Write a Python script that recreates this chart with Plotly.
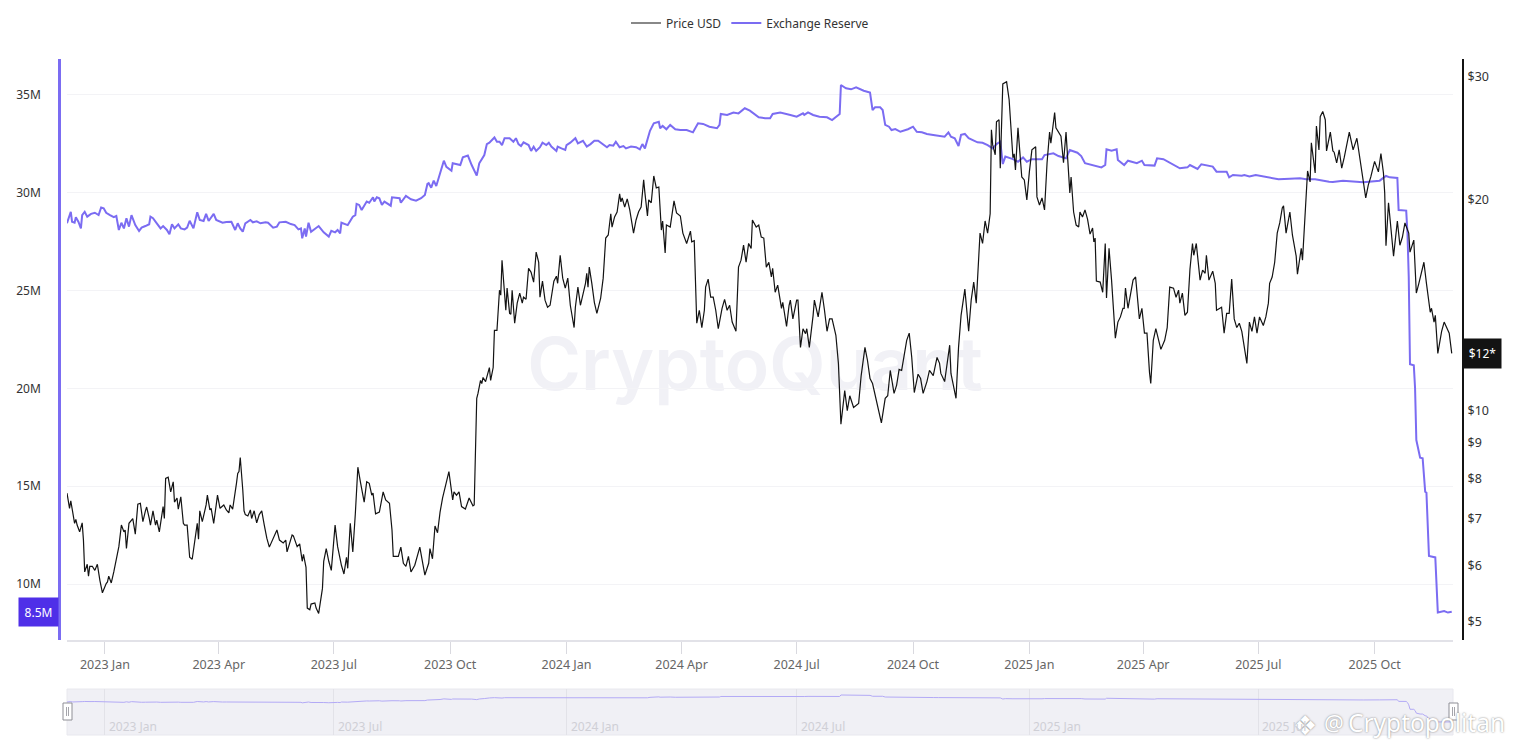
#!/usr/bin/env python3
# plot.py - price vs exchange reserve

import math

import pandas as pd
import plotly.graph_objects as go

W = 1515
H = 751
FONT = "Noto Sans"

# days since the first date of the chart
START_DATE = "2022-12-02"
END_DATE = "2025-12-02"

price_days = [
    0, 2, 3, 4, 6, 7, 8, 10, 12, 13, 14, 16, 17, 18, 20, 22, 24, 26, 28, 31,
    32, 33, 35, 37, 39, 41, 43, 45, 46, 47, 49, 51, 52, 54, 56, 58, 60, 62, 63, 65,
    66, 68, 70, 71, 73, 76, 77, 78, 80, 82, 84, 85, 87, 88, 90, 92, 93, 95, 97, 99,
    101, 103, 104, 105, 107, 108, 110, 111, 113, 114, 116, 118, 119, 121, 124, 126, 128, 129, 131, 134,
    135, 136, 137, 139, 140, 141, 143, 145, 146, 148, 150, 152, 154, 156, 158, 160, 163, 166, 168, 171,
    173, 174, 178, 179, 182, 184, 186, 187, 189, 190, 192, 193, 196, 197, 199, 202, 203, 205, 207, 209,
    212, 214, 217, 219, 221, 222, 224, 226, 228, 230, 232, 235, 237, 239, 241, 242, 244, 247, 250, 252,
    255, 257, 258, 262, 264, 266, 268, 270, 272, 275, 279, 283, 286, 287, 289, 291, 293, 295, 297, 299,
    302, 305, 306, 308, 310, 312, 315, 318, 320, 321, 322, 323, 324, 325, 327, 328, 329, 331, 334, 335,
    337, 338, 340, 342, 343, 344, 345, 347, 348, 350, 351, 352, 354, 356, 358, 360, 361, 363, 365, 367,
    369, 371, 373, 374, 376, 378, 380, 382, 385, 387, 388, 390, 392, 394, 396, 398, 401, 402, 404, 406,
    410, 411, 412, 413, 415, 417, 419, 422, 424, 426, 428, 430, 431, 433, 435, 437, 438, 439, 441, 443,
    445, 448, 450, 452, 454, 456, 457, 459, 460, 462, 464, 466, 468, 470, 471, 473, 474, 477, 480, 482,
    485, 487, 490, 493, 494, 496, 498, 500, 502, 504, 505, 507, 509, 511, 513, 515, 518, 520, 522, 524,
    526, 529, 531, 533, 535, 537, 539, 541, 542, 545, 547, 549, 551, 553, 555, 557, 558, 560, 562, 565,
    566, 569, 571, 572, 574, 577, 578, 580, 582, 584, 585, 587, 590, 591, 594, 597, 599, 601, 603, 605,
    608, 610, 612, 613, 615, 617, 619, 622, 626, 628, 631, 633, 635, 637, 640, 644, 647, 649, 651, 654,
    656, 658, 660, 662, 664, 666, 668, 670, 673, 675, 677, 680, 682, 685, 688, 690, 691, 694, 698, 699,
    703, 705, 707, 710, 713, 715, 717, 719, 721, 722, 724, 726, 728, 730, 731, 732, 734, 735, 737, 738,
    740, 743, 745, 748, 749, 750, 752, 755, 757, 759, 761, 763, 766, 767, 769, 771, 773, 775, 777, 778,
    781, 782, 786, 788, 790, 793, 794, 796, 798, 800, 801, 803, 805, 807, 809, 811, 812, 813, 814, 817,
    819, 821, 822, 824, 826, 829, 831, 833, 835, 836, 837, 839, 843, 845, 848, 850, 852, 854, 856, 857,
    859, 861, 865, 868, 870, 872, 875, 877, 879, 880, 882, 884, 886, 888, 890, 891, 893, 895, 896, 898,
    900, 901, 903, 906, 908, 909, 913, 915, 917, 919, 921, 923, 925, 927, 929, 933, 935, 937, 939, 941,
    943, 946, 948, 950, 951, 953, 955, 957, 959, 961, 962, 964, 967, 969, 972, 973, 976, 977, 979, 981,
    983, 984, 987, 988, 990, 991, 993, 995, 996, 999, 1001, 1002, 1004, 1006, 1008, 1010, 1014, 1017, 1020, 1022,
    1025, 1027, 1029, 1031, 1034, 1037, 1039, 1041, 1042, 1043, 1045, 1047, 1049, 1052, 1054, 1056, 1058, 1061, 1062, 1065,
    1067, 1069, 1071, 1073, 1075, 1078, 1079, 1081, 1082, 1084, 1087, 1089, 1093, 1095,
]

price_usd = [
    7.62, 7.25, 7.43, 7.21, 6.90, 6.99, 6.86, 6.71, 6.91, 6.53, 5.88, 6.03, 5.80, 5.99, 5.99, 5.91, 6.03, 5.72, 5.49, 5.66,
    5.69, 5.80, 5.67, 5.88, 6.11, 6.39, 6.86, 6.71, 6.75, 6.35, 6.90, 6.97, 7.01, 6.66, 7.35, 7.37, 6.94, 7.19, 7.28, 7.02,
    6.86, 7.19, 6.86, 6.97, 6.71, 7.29, 7.01, 8.00, 8.03, 7.65, 7.91, 7.40, 7.50, 7.23, 7.53, 6.90, 6.86, 6.86, 6.17, 6.13,
    6.53, 6.90, 6.55, 7.19, 6.94, 7.07, 7.33, 7.57, 7.21, 7.25, 6.90, 7.33, 7.57, 7.25, 7.33, 7.21, 7.14, 7.33, 7.23, 7.87,
    8.13, 8.18, 8.57, 7.70, 7.19, 7.10, 7.07, 7.21, 7.01, 7.19, 6.91, 7.10, 7.19, 6.86, 6.57, 6.38, 6.57, 6.75, 6.53, 6.47,
    6.53, 6.28, 6.64, 6.62, 6.39, 6.45, 6.09, 6.23, 5.97, 5.22, 5.19, 5.29, 5.31, 5.22, 5.13, 5.57, 6.09, 6.35, 6.09, 5.91,
    6.86, 6.39, 6.01, 5.84, 6.17, 5.95, 6.90, 6.28, 7.12, 8.30, 7.91, 7.40, 7.91, 7.87, 7.57, 7.62, 7.12, 7.16, 7.65, 7.45,
    7.37, 6.75, 6.19, 6.19, 6.38, 6.05, 5.99, 6.19, 5.88, 6.01, 6.38, 5.82, 6.05, 6.35, 6.14, 6.84, 6.69, 7.16, 7.50, 7.76,
    8.18, 7.45, 7.65, 7.57, 7.65, 7.29, 7.23, 7.50, 7.37, 7.31, 7.33, 9.33, 10.41, 10.58, 11.04, 10.93, 11.15, 11.00, 11.52, 11.04,
    11.52, 13.02, 13.02, 14.86, 14.62, 16.40, 15.52, 13.91, 14.96, 13.77, 13.73, 14.86, 13.33, 14.24, 14.72, 14.24, 14.52, 14.42, 15.97, 15.76,
    15.26, 16.84, 16.29, 14.52, 15.31, 14.38, 14.05, 14.14, 15.31, 15.56, 15.20, 16.67, 15.46, 14.96, 15.46, 14.14, 13.14, 14.05, 15.01, 14.14,
    15.20, 15.71, 15.01, 16.03, 15.20, 14.28, 13.77, 14.48, 15.46, 17.64, 17.82, 19.11, 18.29, 18.91, 19.22, 20.40, 19.87, 20.13, 19.54, 20.07,
    19.35, 17.93, 18.72, 19.23, 19.54, 21.36, 20.47, 18.97, 20.00, 19.81, 21.64, 20.81, 20.87, 18.11, 18.66, 16.79, 18.41, 18.29, 19.94, 19.16,
    18.97, 17.93, 17.33, 18.05, 17.42, 17.49, 13.33, 13.91, 13.14, 13.91, 15.01, 15.41, 14.52, 14.52, 13.91, 13.09, 14.00, 14.42, 13.91, 14.14,
    13.38, 12.98, 16.03, 16.40, 17.23, 16.29, 17.33, 17.05, 18.72, 18.29, 18.41, 17.70, 17.64, 16.03, 16.29, 15.52, 15.97, 14.76, 15.11, 14.00,
    14.28, 13.19, 14.14, 14.38, 13.52, 14.38, 14.38, 12.31, 13.09, 12.88, 13.09, 12.31, 13.68, 14.38, 13.61, 14.76, 13.91, 12.98, 13.52, 13.52,
    12.81, 11.68, 9.56, 10.00, 10.68, 10.00, 10.50, 10.10, 10.24, 11.22, 12.31, 11.79, 11.11, 10.93, 10.34, 9.60, 10.41, 10.50, 11.41, 10.58,
    10.86, 11.45, 11.41, 12.07, 12.60, 12.90, 11.91, 10.61, 11.27, 11.11, 10.58, 11.00, 11.41, 11.22, 11.91, 11.68, 11.30, 11.00, 12.40, 11.30,
    10.41, 12.31, 13.68, 14.91, 12.98, 14.38, 15.26, 14.24, 16.84, 17.93, 17.33, 18.66, 17.93, 19.11, 25.19, 23.97, 23.20, 25.87, 26.04, 22.20,
    29.30, 29.50, 27.81, 22.97, 23.27, 22.08, 25.35, 21.57, 21.36, 20.00, 21.93, 23.58, 23.82, 20.20, 19.67, 20.13, 19.35, 22.60, 25.00, 24.10,
    26.65, 25.35, 24.67, 22.60, 25.00, 20.47, 21.57, 19.22, 18.41, 18.29, 19.22, 18.91, 19.35, 18.78, 17.87, 18.23, 17.42, 17.64, 15.31, 15.26,
    14.76, 17.33, 14.48, 17.05, 15.36, 12.69, 13.38, 13.61, 14.00, 14.00, 14.96, 14.00, 15.36, 15.52, 13.52, 14.00, 12.90, 12.90, 11.34, 10.93,
    12.60, 13.09, 12.23, 12.60, 13.14, 15.01, 14.96, 14.52, 14.86, 14.24, 14.72, 13.68, 13.82, 15.92, 17.33, 16.67, 17.33, 15.97, 15.36, 15.87,
    15.71, 16.67, 15.36, 15.82, 15.20, 13.91, 14.05, 12.90, 13.77, 13.77, 15.41, 13.52, 13.14, 13.33, 12.98, 11.68, 13.38, 12.98, 13.61, 12.90,
    13.61, 13.23, 13.61, 14.24, 15.20, 15.52, 16.29, 17.93, 18.54, 19.48, 19.61, 17.93, 19.22, 17.82, 16.62, 15.66, 17.05, 16.40, 18.97, 22.00,
    21.22, 24.13, 21.85, 25.50, 23.58, 26.30, 26.75, 26.04, 23.50, 25.00, 23.50, 23.40, 22.60, 23.58, 22.20, 23.00, 25.00, 23.58, 24.50, 23.20,
    21.57, 20.13, 21.00, 21.57, 22.70, 21.93, 23.30, 21.85, 20.47, 17.20, 19.81, 18.11, 16.62, 18.66, 17.23, 17.70, 18.54, 17.93, 16.84, 17.52,
    14.72, 15.20, 15.71, 16.29, 15.20, 13.82, 14.00, 13.38, 13.68, 12.07, 12.98, 13.38, 12.90, 12.07,
]

reserve_days = [
    0, 2, 3, 4, 6, 7, 9, 11, 12, 14, 16, 19, 22, 25, 27, 29, 31, 34, 37, 39,
    41, 43, 45, 47, 49, 51, 54, 57, 59, 62, 65, 66, 68, 71, 74, 76, 79, 81, 83, 85,
    88, 90, 93, 95, 97, 100, 103, 105, 108, 110, 112, 116, 118, 123, 126, 130, 133, 135, 137, 139,
    141, 145, 147, 150, 153, 157, 159, 163, 166, 168, 173, 177, 180, 183, 185, 186, 188, 189, 191, 193,
    197, 199, 203, 207, 209, 212, 214, 216, 217, 222, 226, 228, 229, 231, 233, 237, 239, 242, 243, 245,
    247, 249, 251, 256, 257, 263, 264, 268, 272, 276, 280, 283, 285, 286, 288, 290, 292, 295, 298, 300,
    304, 305, 311, 313, 317, 320, 324, 326, 330, 332, 334, 338, 340, 342, 344, 346, 350, 353, 355, 357,
    359, 361, 365, 367, 369, 371, 374, 376, 379, 381, 383, 387, 388, 391, 394, 395, 398, 402, 404, 408,
    411, 414, 417, 420, 424, 427, 429, 432, 434, 437, 440, 442, 446, 450, 453, 455, 457, 459, 461, 464,
    468, 469, 471, 474, 477, 481, 485, 490, 495, 499, 503, 508, 514, 516, 517, 522, 527, 531, 536, 540,
    547, 552, 556, 558, 564, 572, 577, 582, 583, 586, 590, 595, 601, 605, 611, 612, 616, 620, 624, 630,
    635, 637, 639, 643, 645, 647, 650, 652, 655, 659, 662, 665, 669, 672, 676, 680, 685, 689, 694, 697,
    699, 702, 705, 707, 710, 713, 716, 720, 724, 728, 732, 735, 738, 740, 742, 748, 752, 756, 759, 763,
    771, 773, 780, 784, 790, 793, 799, 802, 805, 811, 818, 821, 822, 826, 830, 831, 836, 839, 846, 850,
    852, 860, 862, 867, 873, 880, 886, 888, 894, 897, 906, 909, 917, 919, 922, 929, 931, 935, 940, 951,
    958, 967, 975, 980, 987, 998, 1001, 1009, 1025, 1038, 1043, 1046, 1052, 1053, 1059, 1060, 1061, 1062, 1065, 1066,
    1067, 1070, 1072, 1074, 1075, 1077, 1082, 1084, 1087, 1089, 1092, 1095,
]

reserve_m = [
    28.44, 28.92, 29.03, 28.52, 28.47, 28.75, 28.52, 28.18, 28.86, 29.03, 28.78, 28.92, 28.98, 28.86, 29.25, 29.21, 28.98, 28.86, 28.75, 28.81,
    28.10, 28.47, 28.18, 28.70, 28.27, 28.86, 28.35, 28.05, 28.22, 28.30, 28.39, 28.78, 28.70, 28.44, 28.18, 28.30, 28.10, 27.88, 28.39, 28.18,
    28.39, 28.18, 28.13, 28.22, 28.57, 28.18, 29.00, 28.61, 28.56, 28.92, 28.56, 28.92, 28.61, 28.47, 28.51, 28.52, 28.10, 28.44, 28.18, 28.01,
    28.44, 28.61, 28.49, 28.54, 28.44, 28.49, 28.47, 28.22, 28.27, 28.49, 28.52, 28.40, 28.35, 28.13, 28.18, 27.67, 28.18, 27.76, 28.47, 28.01,
    28.18, 28.30, 27.98, 27.76, 28.06, 27.98, 28.10, 27.93, 28.47, 28.35, 28.78, 28.86, 29.43, 29.38, 29.12, 29.55, 29.49, 29.77, 29.55, 29.77,
    29.72, 29.38, 29.55, 29.34, 29.77, 29.72, 29.49, 29.84, 29.67, 29.60, 29.72, 29.89, 30.45, 30.49, 30.26, 30.62, 30.35, 31.00, 31.64, 31.33,
    31.13, 31.51, 31.42, 31.81, 31.90, 31.42, 30.88, 31.51, 31.93, 32.49, 32.56, 32.83, 32.61, 32.61, 32.44, 32.79, 32.79, 32.61, 32.79, 32.49,
    32.39, 32.58, 32.44, 32.14, 32.36, 32.14, 32.33, 32.56, 32.44, 32.56, 32.36, 32.14, 32.36, 32.27, 32.19, 32.44, 32.56, 32.79, 32.53, 32.66,
    32.36, 32.49, 32.66, 32.66, 32.49, 32.33, 32.44, 32.41, 32.61, 32.33, 32.39, 32.27, 32.36, 32.33, 32.22, 32.49, 32.27, 32.70, 33.17, 33.55,
    33.63, 33.30, 33.42, 33.25, 33.47, 33.25, 33.21, 33.21, 33.09, 33.55, 33.52, 33.38, 33.30, 33.47, 34.03, 33.98, 34.10, 34.06, 34.32, 34.20,
    33.86, 33.81, 33.81, 34.03, 34.10, 33.98, 33.89, 34.06, 33.98, 34.11, 33.98, 33.89, 33.86, 33.72, 34.03, 35.51, 35.34, 35.29, 35.39, 35.22,
    35.12, 34.23, 34.37, 34.37, 34.23, 33.47, 33.38, 33.21, 33.26, 33.12, 33.17, 33.25, 33.38, 33.12, 33.09, 33.01, 32.96, 32.91, 32.87, 33.09,
    32.87, 32.79, 32.39, 32.96, 33.01, 32.79, 32.70, 32.58, 32.56, 32.44, 32.27, 32.49, 32.61, 31.47, 31.85, 31.72, 31.59, 31.81, 31.59, 31.72,
    31.72, 31.93, 32.02, 31.88, 31.76, 32.19, 32.05, 31.88, 31.51, 31.42, 31.30, 31.42, 32.22, 32.15, 32.22, 31.68, 31.42, 31.64, 31.51, 31.64,
    31.42, 31.39, 31.76, 31.72, 31.51, 31.25, 31.30, 31.42, 31.22, 31.46, 31.34, 31.08, 31.08, 30.79, 30.91, 30.87, 30.91, 30.83, 30.91, 30.79,
    30.69, 30.72, 30.74, 30.69, 30.69, 30.57, 30.55, 30.62, 30.54, 30.62, 30.86, 30.79, 30.76, 29.12, 29.09, 27.93, 25.71, 21.23, 21.18, 20.02,
    17.36, 16.46, 16.43, 14.72, 14.67, 11.43, 11.36, 8.54, 8.60, 8.62, 8.54, 8.58,
]

reserve_ticks = [10, 15, 20, 25, 30, 35]
reserve_tick_labels = ["10M", "15M", "20M", "25M", "30M", "35M"]
price_ticks = [5, 6, 7, 8, 9, 10, 20, 30]
price_tick_labels = ["$5", "$6", "$7", "$8", "$9", "$10", "$20", "$30"]
slider_tick_dates = ["2023-01-01", "2023-07-01", "2024-01-01", "2024-07-01", "2025-01-01", "2025-07-01"]
slider_tick_labels = ["2023 Jan", "2023 Jul", "2024 Jan", "2024 Jul", "2025 Jan", "2025 Jul"]

assert len(price_days) == len(price_usd), (len(price_days), len(price_usd))
assert len(reserve_days) == len(reserve_m), (len(reserve_days), len(reserve_m))

RESERVE_COLOR = "#7b6cf2"
TAG_COLOR = "#4f2fe8"
PRICE_COLOR = "#131313"


def px(x):
    return x / W


def py(y):
    return 1 - y / H


start = pd.Timestamp(START_DATE)
price_dates = start + pd.to_timedelta(price_days, unit="D")
reserve_dates = start + pd.to_timedelta(reserve_days, unit="D")

fig = go.Figure()
fig.add_trace(go.Scatter(
    x=price_dates, y=price_usd, name="Price USD", mode="lines",
    line=dict(color=PRICE_COLOR, width=1.2), xaxis="x", yaxis="y2",
))
fig.add_trace(go.Scatter(
    x=reserve_dates, y=reserve_m, name="Exchange Reserve", mode="lines",
    line=dict(color=RESERVE_COLOR, width=2), xaxis="x", yaxis="y",
))
# the small overview strip under the chart
fig.add_trace(go.Scatter(
    x=reserve_dates, y=reserve_m, mode="lines", showlegend=False,
    line=dict(color="#b3aaf6", width=1), xaxis="x2", yaxis="y3",
))

shapes = [
    # CryptoQuant mark sits behind the lines
    dict(type="rect", xref="paper", yref="paper", x0=px(500), x1=px(1010), y0=py(396), y1=py(326),
         line=dict(width=0), fillcolor="rgba(0,0,0,0)", layer="below",
         label=dict(text="CryptoQuant", textposition="middle center",
                    font=dict(family="Inter", size=73, color="#f1f1f6", weight=600))),
    dict(type="rect", xref="x2 domain", yref="y3 domain", x0=0, x1=1, y0=0, y1=1,
         line=dict(color="#e8e8ee", width=1), fillcolor="#f0f0f5", layer="below"),
]
# overview handles
for left in [63, 1449]:
    shapes.append(dict(type="rect", xref="paper", yref="paper", x0=px(left), x1=px(left + 9),
                       y0=py(720), y1=py(703), line=dict(color="#8f8f96", width=1), fillcolor="#ffffff"))
    for off in [3.5, 5.5]:
        shapes.append(dict(type="line", xref="paper", yref="paper", x0=px(left + off), x1=px(left + off),
                           y0=py(716), y1=py(707), line=dict(color="#a5a5ab", width=1)))

annotations = [
    dict(xref="paper", yref="y", x=px(59), y=reserve_m[-1], xanchor="right", yanchor="middle", text="8.5M",
         showarrow=False, bgcolor=TAG_COLOR, width=37, height=26, font=dict(family=FONT, size=12, color="#ffffff")),
    dict(xref="paper", yref="y2", x=px(1463), y=math.log10(price_usd[-1]), xanchor="left", yanchor="middle",
         text="$12*", showarrow=False, bgcolor=PRICE_COLOR, width=35, height=27,
         font=dict(family=FONT, size=12, color="#ffffff")),
    dict(xref="paper", yref="paper", x=px(1346), y=py(722), xanchor="left", yanchor="middle", text="Cryptopolitan",
         showarrow=False, font=dict(family=FONT, size=24.5, color="#ffffff", shadow="0 0 2px #777777")),
    dict(xref="paper", yref="paper", x=px(1334), y=py(722), xanchor="center", yanchor="middle", text="@",
         showarrow=False, font=dict(family=FONT, size=22, color="#ffffff", shadow="0 0 2px #777777")),
    dict(xref="paper", yref="paper", x=px(1305), y=py(725), xanchor="center", yanchor="middle", text="❖",
         showarrow=False, font=dict(family="DejaVu Sans", size=27, color="#ffffff", shadow="0 0 2px #777777")),
]
for date, label in zip(slider_tick_dates, slider_tick_labels):
    annotations.append(dict(
        xref="x2", yref="paper", x=date, y=py(726), xanchor="left", yanchor="middle", xshift=2,
        text=label, showarrow=False, font=dict(family=FONT, size=12, color="#cfcfd6"),
    ))

fig.update_layout(
    width=W,
    height=H,
    margin=dict(l=0, r=0, t=0, b=0),
    paper_bgcolor="#ffffff",
    plot_bgcolor="#ffffff",
    font=dict(family=FONT, size=12, color="#333333"),
    legend=dict(orientation="h", xanchor="left", yanchor="middle", x=px(626), y=py(23),
                font=dict(family=FONT, size=12, color="#333333"), itemwidth=30),
    xaxis=dict(
        domain=[px(67), px(1453)], range=[START_DATE, END_DATE], anchor="y", type="date",
        tick0="2023-01-01", dtick="M3", tickformat="%Y %b", ticks="outside", ticklen=12,
        tickcolor="#d9d9df", showgrid=False, zeroline=False, showline=True, linecolor="#e2e2e8", linewidth=2,
        tickfont=dict(family=FONT, size=12.5, color="#666666"),
    ),
    yaxis=dict(
        domain=[py(640), py(59)], range=[7.137, 36.84], anchor="free", position=px(59), side="left",
        tickvals=reserve_ticks, ticktext=reserve_tick_labels, ticklabelstandoff=15, showline=True,
        linecolor=RESERVE_COLOR, linewidth=2.5, gridcolor="#f3f3f6", gridwidth=1, zeroline=False,
        tickfont=dict(family=FONT, size=12, color="#333333"),
    ),
    yaxis2=dict(
        domain=[py(640), py(59)], range=[0.6721, 1.5024], type="log", overlaying="y", anchor="free",
        position=px(1463), side="right", tickvals=price_ticks, ticktext=price_tick_labels, ticklabelstandoff=1,
        showline=True, linecolor=PRICE_COLOR, linewidth=2, showgrid=False, zeroline=False,
        tickfont=dict(family=FONT, size=12.5, color="#333333"),
    ),
    xaxis2=dict(
        domain=[px(67), px(1453)], range=[START_DATE, END_DATE], anchor="y3", type="date",
        tick0="2023-01-01", dtick="M6", showticklabels=False, showgrid=True, gridcolor="#e2e2e8",
        zeroline=False, showline=False, ticks="",
    ),
    yaxis3=dict(
        domain=[py(735), py(689)], range=[-4.5, 41.5], anchor="x2", visible=False, showgrid=False, zeroline=False,
    ),
    shapes=shapes,
    annotations=annotations,
)

# the page's default body margin would push the chart 8px off
fig.write_html("out.html", config={"displayModeBar": False}, post_script="document.body.style.margin = '0';")
